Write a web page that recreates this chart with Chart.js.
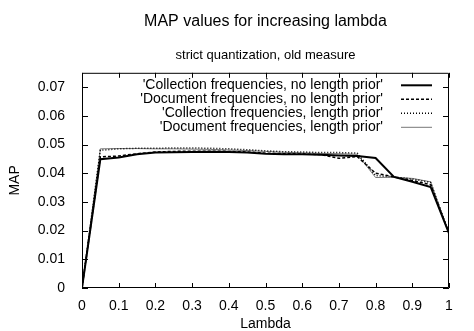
<!DOCTYPE html>
<html>
<head>
<meta charset="utf-8">
<script src="https://cdn.jsdelivr.net/npm/chart.js@4.4.1/dist/chart.umd.min.js"></script>
<style>
  html, body { margin: 0; padding: 0; background: #fff; }
  #wrap { width: 474px; height: 331px; }
</style>
</head>
<body>
<div id="wrap"><canvas id="mapchart" width="474" height="331"></canvas></div>
<script>
// lambda values on the x axis
var lambdas = [0, 0.05, 0.1, 0.15, 0.2, 0.25, 0.3, 0.35, 0.4, 0.45, 0.5,
               0.55, 0.6, 0.65, 0.7, 0.75, 0.8, 0.85, 0.9, 0.95, 1];

var cfNoPrior = [0, 0.0449, 0.0455, 0.0466, 0.0472, 0.0473, 0.0474, 0.0475, 0.0474, 0.0472, 0.0468,
                 0.0466, 0.0466, 0.0464, 0.0462, 0.0460, 0.0453, 0.0387, 0.0370, 0.0352, 0.0190];
var dfNoPrior = [0, 0.0457, 0.0460, 0.0468, 0.0474, 0.0476, 0.0477, 0.0477, 0.0476, 0.0474, 0.0470,
                 0.0468, 0.0467, 0.0465, 0.0452, 0.0458, 0.0400, 0.0387, 0.0375, 0.0360, 0.0192];
var cfPrior   = [0, 0.0480, 0.0485, 0.0487, 0.0487, 0.0488, 0.0488, 0.0487, 0.0485, 0.0482, 0.0478,
                 0.0475, 0.0474, 0.0472, 0.0472, 0.0470, 0.0392, 0.0387, 0.0380, 0.0368, 0.0190];
var dfPrior   = [0, 0.0485, 0.0486, 0.0486, 0.0485, 0.0485, 0.0484, 0.0483, 0.0481, 0.0479, 0.0476,
                 0.0473, 0.0471, 0.0469, 0.0468, 0.0466, 0.0385, 0.0386, 0.0382, 0.0370, 0.0190];

var seriesNames = [
    "'Collection frequencies, no length prior'",
    "'Document frequencies, no length prior'",
    "'Collection frequencies, length prior'",
    "'Document frequencies, length prior'"
];

var FONT = '"Liberation Sans", Arial, Helvetica, sans-serif';

function pts(vals) {
    return lambdas.map(function (x, i) { return { x: x, y: vals[i] }; });
}

// gnuplot style frame with inward ticks on all four sides
var framePlugin = {
    id: 'frame',
    afterDatasetsDraw: function (chart) {
        var c = chart.ctx, a = chart.chartArea;
        var xs = chart.scales.x, ys = chart.scales.y;
        c.save();
        c.strokeStyle = '#000';
        c.lineWidth = 1;
        c.beginPath();
        c.rect(a.left + 0.5, a.top + 0.5, a.right - a.left - 1, a.bottom - a.top - 1);
        xs.ticks.forEach(function (t) {
            var px = Math.round(xs.getPixelForValue(t.value)) + 0.5;
            c.moveTo(px, a.bottom); c.lineTo(px, a.bottom - 5);
            c.moveTo(px, a.top); c.lineTo(px, a.top + 5);
        });
        ys.ticks.forEach(function (t) {
            var py = Math.round(ys.getPixelForValue(t.value)) + 0.5;
            c.moveTo(a.left, py); c.lineTo(a.left + 6, py);
            c.moveTo(a.right, py); c.lineTo(a.right - 6, py);
        });
        c.stroke();

        // key, top right inside the frame
        c.font = '14px ' + FONT;
        c.textAlign = 'right';
        c.textBaseline = 'middle';
        c.fillStyle = '#000';
        chart.data.datasets.forEach(function (ds, i) {
            var y = a.top + 12 + i * 14;
            c.fillText(ds.label, a.right - 66, y);
            c.beginPath();
            c.strokeStyle = ds.borderColor;
            c.lineWidth = ds.borderWidth;
            c.setLineDash(ds.borderDash || []);
            c.moveTo(a.right - 48, y + 0.5);
            c.lineTo(a.right - 17, y + 0.5);
            c.stroke();
        });
        c.restore();
    }
};

var ctx = document.getElementById('mapchart').getContext('2d');
var myChart = new Chart(ctx, {
    type: 'line',
    data: {
        datasets: [{
            label: seriesNames[0],
            data: pts(cfNoPrior),
            borderColor: '#000',
            borderWidth: 2
        }, {
            label: seriesNames[1],
            data: pts(dfNoPrior),
            borderColor: '#000',
            borderWidth: 1.5,
            borderDash: [3, 2]
        }, {
            label: seriesNames[2],
            data: pts(cfPrior),
            borderColor: '#000',
            borderWidth: 1.5,
            borderDash: [1, 2]
        }, {
            label: seriesNames[3],
            data: pts(dfPrior),
            borderColor: '#777',
            borderWidth: 1
        }]
    },
    options: {
        responsive: false,
        animation: false,
        elements: {
            point: { radius: 0 },
            line: { tension: 0, fill: false }
        },
        layout: { padding: { left: 0, right: 25, top: 8, bottom: 0 } },
        plugins: {
            legend: { display: false },
            tooltip: { enabled: false },
            title: {
                display: true,
                text: 'MAP values for increasing lambda',
                fullSize: false,
                color: '#000',
                font: { family: FONT, size: 16, weight: 'normal' },
                padding: { top: 4, bottom: 6 }
            },
            subtitle: {
                display: true,
                text: 'strict quantization, old measure',
                fullSize: false,
                color: '#000',
                font: { family: FONT, size: 13, weight: 'normal' },
                padding: { top: 10, bottom: 10 }
            }
        },
        scales: {
            x: {
                type: 'linear',
                min: 0,
                max: 1,
                grid: { display: false },
                border: { display: false },
                ticks: {
                    stepSize: 0.1,
                    color: '#000',
                    padding: 2,
                    maxRotation: 0,
                    font: { family: FONT, size: 14 },
                    callback: function (v) { return String(+v.toFixed(2)); }
                },
                title: {
                    display: true,
                    text: 'Lambda',
                    color: '#000',
                    font: { family: FONT, size: 14, lineHeight: 1 },
                    padding: { top: 0, bottom: 0 }
                },
                afterFit: function (scale) { scale.height = 43; }
            },
            y: {
                min: 0,
                max: 0.075,
                grid: { display: false },
                border: { display: false },
                ticks: {
                    stepSize: 0.01,
                    includeBounds: false,
                    color: '#000',
                    padding: 9,
                    font: { family: FONT, size: 14 },
                    callback: function (v) { return String(+v.toFixed(3)); }
                },
                title: {
                    display: true,
                    text: 'MAP',
                    color: '#000',
                    font: { family: FONT, size: 14 },
                    padding: { top: 7, bottom: 4 }
                },
                afterFit: function (scale) { scale.width = 82; }
            }
        }
    },
    plugins: [framePlugin]
});
</script>
</body>
</html>
